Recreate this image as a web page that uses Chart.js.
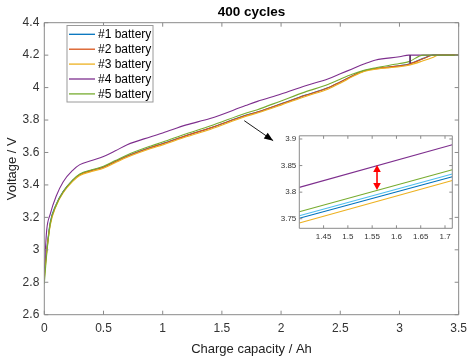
<!DOCTYPE html>
<html><head><meta charset="utf-8">
<script src="https://cdn.jsdelivr.net/npm/chart.js@4.4.1/dist/chart.umd.min.js"></script>
<style>
html,body{margin:0;padding:0;background:#fff;}
#wrap{position:relative;width:474px;height:357px;overflow:hidden;}
#main{position:absolute;left:0;top:0;}
#inset{position:absolute;left:262px;top:128px;}
</style></head><body>
<div id="wrap"><canvas id="main" width="474" height="357"></canvas><canvas id="inset" width="198" height="118"></canvas></div>
<script>
// ---------- data ----------
const capacity = [0, 0.02, 0.05, 0.1, 0.16, 0.24, 0.3, 0.4, 0.5, 0.6, 0.7, 0.9, 1.0, 1.2, 1.4, 1.7, 1.8, 2.0, 2.2, 2.4, 2.5, 2.6, 2.7, 2.8, 3.0, 3.08, 3.2, 3.28, 3.33, 3.5];
const battery1 = [2.86, 3.00, 3.17, 3.28, 3.36, 3.43, 3.465, 3.49, 3.51, 3.545, 3.578, 3.632, 3.655, 3.705, 3.751, 3.829, 3.85, 3.90, 3.952, 4.000, 4.035, 4.072, 4.103, 4.118, 4.135, 4.145, 4.18, 4.2, 4.2, 4.2];
const battery2 = [2.84, 2.99, 3.16, 3.275, 3.357, 3.428, 3.463, 3.488, 3.509, 3.544, 3.577, 3.631, 3.654, 3.704, 3.750, 3.828, 3.849, 3.899, 3.951, 3.999, 4.034, 4.071, 4.102, 4.117, 4.134, 4.144, 4.178, 4.199, 4.2, 4.2];
const battery3 = [2.82, 2.98, 3.15, 3.27, 3.352, 3.422, 3.458, 3.483, 3.503, 3.537, 3.570, 3.624, 3.647, 3.697, 3.742, 3.822, 3.843, 3.892, 3.944, 3.992, 4.027, 4.066, 4.10, 4.114, 4.128, 4.138, 4.165, 4.185, 4.2, 4.2];
const battery4 = [2.88, 3.12, 3.22, 3.33, 3.42, 3.49, 3.525, 3.55, 3.575, 3.61, 3.648, 3.697, 3.72, 3.77, 3.809, 3.889, 3.915, 3.96, 4.01, 4.055, 4.085, 4.115, 4.145, 4.17, 4.19, 4.2, 4.2, 4.2, 4.2, 4.2];
const battery5 = [2.79, 2.97, 3.16, 3.275, 3.358, 3.43, 3.467, 3.493, 3.515, 3.55, 3.585, 3.64, 3.664, 3.716, 3.763, 3.842, 3.864, 3.918, 3.972, 4.02, 4.052, 4.082, 4.106, 4.122, 4.148, 4.16, 4.2, 4.2, 4.2, 4.2];
const seriesNames = ['#1 battery', '#2 battery', '#3 battery', '#4 battery', '#5 battery'];
const seriesColors = ['#0072BD', '#D95319', '#EDB120', '#7E2F8E', '#77AC30'];
const plateauMarkX = [3.09, 3.09];
const plateauMarkY = [4.2, 4.15];
const xTicks = [0, 0.5, 1, 1.5, 2, 2.5, 3, 3.5];
const yTicks = [2.6, 2.8, 3, 3.2, 3.4, 3.6, 3.8, 4, 4.2, 4.4];
const pointerFrom = [1.689, 3.796];
const pointerTo = [1.933, 3.673];
// inset (zoomed view)
const insetCapacity = [1.4, 1.715];
const insetPurple = [3.809, 3.889];
const insetGreen = [3.763, 3.842];
const insetLightBlue = [3.7555, 3.834];
const insetBlue = [3.751, 3.829];
const insetYellow = [3.742, 3.822];
const insetColors = ['#7E2F8E', '#77AC30', '#4DBEEE', '#0072BD', '#EDB120'];
const insetXTicks = [1.45, 1.5, 1.55, 1.6, 1.65, 1.7];
const insetYTicks = [3.75, 3.8, 3.85, 3.9];
const gapArrowX = 1.56;
const gapArrowY = [3.804, 3.851];

// ---------- plugins ----------
const FONT = '"Liberation Sans", Arial, Helvetica, sans-serif';
const framePlugin = {
  id: 'frame',
  afterDatasetsDraw(chart, args, o) {
    const {ctx, chartArea: a} = chart;
    const xs = chart.scales.x, ys = chart.scales.y;
    ctx.save();
    ctx.strokeStyle = o.color; ctx.lineWidth = o.width;
    ctx.beginPath();
    ctx.rect(a.left, a.top, a.right - a.left, a.bottom - a.top);
    xs.ticks.forEach(t => { const p = xs.getPixelForValue(t.value);
      ctx.moveTo(p, a.bottom); ctx.lineTo(p, a.bottom - o.len);
      ctx.moveTo(p, a.top); ctx.lineTo(p, a.top + o.len); });
    ys.ticks.forEach(t => { const p = ys.getPixelForValue(t.value);
      ctx.moveTo(a.left, p); ctx.lineTo(a.left + o.len, p);
      ctx.moveTo(a.right, p); ctx.lineTo(a.right - o.len, p); });
    ctx.stroke(); ctx.restore();
  }
};
const whiteArea = {
  id: 'whiteArea',
  beforeDatasetsDraw(chart) {
    const {ctx, chartArea: a} = chart;
    ctx.save(); ctx.fillStyle = '#fff';
    ctx.fillRect(a.left, a.top, a.right - a.left, a.bottom - a.top); ctx.restore();
  }
};
function arrowHead(ctx, x1, y1, x2, y2, len, half) {
  const ang = Math.atan2(y2 - y1, x2 - x1);
  ctx.beginPath();
  ctx.moveTo(x2, y2);
  ctx.lineTo(x2 - len * Math.cos(ang) + half * Math.sin(ang), y2 - len * Math.sin(ang) - half * Math.cos(ang));
  ctx.lineTo(x2 - len * Math.cos(ang) - half * Math.sin(ang), y2 - len * Math.sin(ang) + half * Math.cos(ang));
  ctx.closePath(); ctx.fill();
}
const pointerPlugin = {
  id: 'pointer',
  afterDatasetsDraw(chart, args, o) {
    const {ctx} = chart; const xs = chart.scales.x, ys = chart.scales.y;
    const x1 = xs.getPixelForValue(o.from[0]), y1 = ys.getPixelForValue(o.from[1]);
    const x2 = xs.getPixelForValue(o.to[0]), y2 = ys.getPixelForValue(o.to[1]);
    ctx.save(); ctx.strokeStyle = o.color; ctx.fillStyle = o.color; ctx.lineWidth = 0.9;
    ctx.beginPath(); ctx.moveTo(x1, y1); ctx.lineTo(x2, y2); ctx.stroke();
    arrowHead(ctx, x1, y1, x2, y2, 9, 3.5);
    ctx.restore();
  }
};
const legendBox = {
  id: 'legendBox',
  afterDraw(chart, args, o) {
    const {ctx} = chart;
    const items = chart.data.datasets.filter(d => d.label);
    ctx.save();
    ctx.fillStyle = '#fff'; ctx.strokeStyle = o.border; ctx.lineWidth = 1;
    ctx.fillRect(o.left, o.top, o.width, o.height);
    ctx.strokeRect(o.left + 0.5, o.top + 0.5, o.width, o.height);
    ctx.font = o.font; ctx.textBaseline = 'middle'; ctx.textAlign = 'left';
    items.forEach((d, i) => {
      const y = o.top + o.first + i * o.row;
      ctx.strokeStyle = d.borderColor; ctx.lineWidth = 1.3;
      ctx.beginPath(); ctx.moveTo(o.left + 2.5, y); ctx.lineTo(o.left + 28.5, y); ctx.stroke();
      ctx.fillStyle = '#000'; ctx.fillText(d.label, o.left + 31.5, y + 0.5);
    });
    ctx.restore();
  }
};
const gapArrowPlugin = {
  id: 'gapArrow',
  afterDatasetsDraw(chart, args, o) {
    const {ctx} = chart; const xs = chart.scales.x, ys = chart.scales.y;
    const x = xs.getPixelForValue(o.x), y1 = ys.getPixelForValue(o.y[0]), y2 = ys.getPixelForValue(o.y[1]);
    ctx.save(); ctx.strokeStyle = o.color; ctx.fillStyle = o.color; ctx.lineWidth = 1.6;
    ctx.beginPath(); ctx.moveTo(x, y1 - 5); ctx.lineTo(x, y2 + 5); ctx.stroke();
    arrowHead(ctx, x, y2, x, y1, 7, 3.8);
    arrowHead(ctx, x, y1, x, y2, 7, 3.8);
    ctx.restore();
  }
};

// ---------- main chart ----------
const voltages = [battery1, battery2, battery3, battery4, battery5];
const datasets = voltages.map((v, i) => ({
  label: seriesNames[i],
  data: capacity.map((c, k) => ({x: c, y: v[k]})),
  borderColor: seriesColors[i], backgroundColor: seriesColors[i],
  borderWidth: 1.1, pointRadius: 0, fill: false,
  cubicInterpolationMode: 'monotone', order: 5 - i
}));
datasets.push({
  label: '', data: plateauMarkX.map((x, k) => ({x, y: plateauMarkY[k]})),
  borderColor: '#5a2d66', borderWidth: 1, pointRadius: 0, tension: 0, order: 0
});

const tickFont = {family: FONT, size: 12};
new Chart(document.getElementById('main'), {
  type: 'line',
  data: {datasets},
  options: {
    responsive: false, animation: false, devicePixelRatio: 1,
    layout: {padding: {top: 0, right: 14, left: 0, bottom: 0}},
    plugins: {
      legend: {display: false}, tooltip: {enabled: false},
      title: {display: true, text: '400 cycles', fullSize: false, color: '#000',
        font: {family: FONT, size: 13.5, weight: 'bold'}, padding: {top: 4.6, bottom: 1.9}},
      frame: {color: '#8a8a8a', width: 1, len: 4},
      pointer: {from: pointerFrom, to: pointerTo, color: '#000'},
      legendBox: {left: 66.5, top: 25, width: 86, height: 76.5, first: 9.3, row: 14.9,
        border: '#9a9a9a', font: '12px ' + FONT}
    },
    scales: {
      x: {type: 'linear', min: 0, max: 3.5,
        afterBuildTicks: s => { s.ticks = xTicks.map(v => ({value: v})); },
        afterFit: s => { s.height = 42.3; },
        grid: {display: false, drawTicks: false}, border: {display: false},
        ticks: {font: tickFont, color: '#333', padding: 7, maxRotation: 0, autoSkip: false,
          callback: v => String(v)},
        title: {display: true, text: 'Charge capacity / Ah', color: '#222',
          font: {family: FONT, size: 13}, padding: {top: 4.2, bottom: 0}}
      },
      y: {type: 'linear', min: 2.6, max: 4.4,
        afterBuildTicks: s => { s.ticks = yTicks.map(v => ({value: v})); },
        afterFit: s => { s.width = 44.3; },
        grid: {display: false, drawTicks: false}, border: {display: false},
        ticks: {font: tickFont, color: '#333', padding: 5, autoSkip: false,
          callback: v => String(v)},
        title: {display: true, text: 'Voltage / V', color: '#222',
          font: {family: FONT, size: 13}, padding: {top: 4.2, bottom: 0}}
      }
    }
  },
  plugins: [framePlugin, pointerPlugin, legendBox]
});

// ---------- inset chart ----------
const insetSeries = [insetPurple, insetGreen, insetLightBlue, insetBlue, insetYellow];
const insetDatasets = insetSeries.map((v, i) => ({
  data: insetCapacity.map((c, k) => ({x: c, y: v[k]})),
  borderColor: insetColors[i], borderWidth: 1.1, pointRadius: 0, tension: 0
}));
const insetFont = {family: FONT, size: 8};
new Chart(document.getElementById('inset'), {
  type: 'line',
  data: {datasets: insetDatasets},
  options: {
    responsive: false, animation: false, devicePixelRatio: 1,
    layout: {padding: {top: 7.7, right: 7.7, left: 0, bottom: 0}},
    plugins: {
      legend: {display: false}, tooltip: {enabled: false},
      frame: {color: '#8a8a8a', width: 1, len: 3},
      gapArrow: {x: gapArrowX, y: gapArrowY, color: '#ff0000'}
    },
    scales: {
      x: {type: 'linear', min: 1.4, max: 1.715,
        afterBuildTicks: s => { s.ticks = insetXTicks.map(v => ({value: v})); },
        afterFit: s => { s.height = 17.7; },
        grid: {display: false, drawTicks: false}, border: {display: false},
        ticks: {font: insetFont, color: '#333', padding: 4, maxRotation: 0, autoSkip: false,
          callback: v => String(v)}
      },
      y: {type: 'linear', min: 3.732, max: 3.906,
        afterBuildTicks: s => { s.ticks = insetYTicks.map(v => ({value: v})); },
        afterFit: s => { s.width = 37.3; },
        grid: {display: false, drawTicks: false}, border: {display: false},
        ticks: {font: insetFont, color: '#333', padding: 3, autoSkip: false,
          callback: v => String(v)}
      }
    }
  },
  plugins: [whiteArea, framePlugin, gapArrowPlugin]
});
</script>
</body></html>
